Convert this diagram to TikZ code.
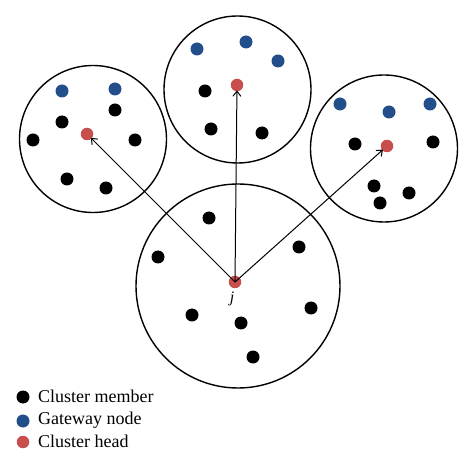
\documentclass[tikz,border=0pt]{standalone}
\usepackage{fontspec}
\setmainfont{Liberation Serif}
\usetikzlibrary{arrows.meta}
\definecolor{gwblue}{RGB}{35,78,140}
\definecolor{chred}{RGB}{200,78,78}
\begin{document}
\begin{tikzpicture}[x=1pt,y=-1pt,
  cluster/.style={draw,line width=1.4pt},
  member/.style={circle,fill=black,inner sep=0pt,minimum size=13pt},
  gateway/.style={circle,fill=gwblue,inner sep=0pt,minimum size=13pt},
  head/.style={circle,fill=chred,inner sep=0pt,minimum size=12.5pt},
  link/.style={line width=1pt,-{Straight Barb[length=5pt,width=8pt]},shorten >=-1pt},
  legtext/.style={anchor=west,font=\fontsize{18}{20}\selectfont,inner sep=0pt}]
\useasboundingbox (0,0) rectangle (474,470);
% clusters
\draw[cluster] (93,139) circle (73.5);
\draw[cluster] (237.5,89.5) circle (73.5);
\draw[cluster] (384,148.5) circle (73.5);
\draw[cluster] (238,286) circle (102);
% left cluster
\node[gateway] (l1) at (62,91) {};
\node[gateway] (l2) at (115,89) {};
\node[member] (l3) at (115,110) {};
\node[member] (l4) at (62,122) {};
\node[member] (l5) at (33,140) {};
\node[member] (l6) at (135,140) {};
\node[member] (l7) at (67,179) {};
\node[member] (l8) at (106,188) {};
\node[head] (hl) at (87,134) {};
% top cluster
\node[gateway] (t1) at (197,49) {};
\node[gateway] (t2) at (246,42) {};
\node[gateway] (t3) at (278,61) {};
\node[member] (t4) at (205,91) {};
\node[member] (t5) at (211,129) {};
\node[member] (t6) at (262,133) {};
\node[head] (ht) at (237,85) {};
% right cluster
\node[gateway] (r1) at (340,104) {};
\node[gateway] (r2) at (389,112) {};
\node[gateway] (r3) at (430,104) {};
\node[member] (r4) at (355,144) {};
\node[member] (r5) at (433,142) {};
\node[member] (r6) at (374,186) {};
\node[member] (r7) at (409,193) {};
\node[member] (r8) at (380,203) {};
\node[head] (hr) at (387,146) {};
% bottom cluster
\node[member] (b1) at (209,218) {};
\node[member] (b2) at (158,257) {};
\node[member] (b3) at (299,247) {};
\node[member] (b4) at (192,315) {};
\node[member] (b5) at (241,323) {};
\node[member] (b6) at (311,308) {};
\node[member] (b7) at (253,357) {};
\node[head] (j) at (235,282) {};
\node[font=\fontsize{16}{18}\selectfont\itshape,inner sep=0pt] (jl) at (232,299) {j};
% links
\draw[link] (j.center) -- (hl);
\draw[link] (j.center) -- (ht);
\draw[link] (j.center) -- (hr);
% legend
\node[member] (k1) at (23,397) {};
\node[gateway] (k2) at (23,421) {};
\node[head] (k3) at (23,442) {};
\node[legtext] (k1t) at (38,396) {Cluster member};
\node[legtext] (k2t) at (38,420) {Gateway node};
\node[legtext] (k3t) at (38,441) {Cluster head};
\end{tikzpicture}
\end{document}
